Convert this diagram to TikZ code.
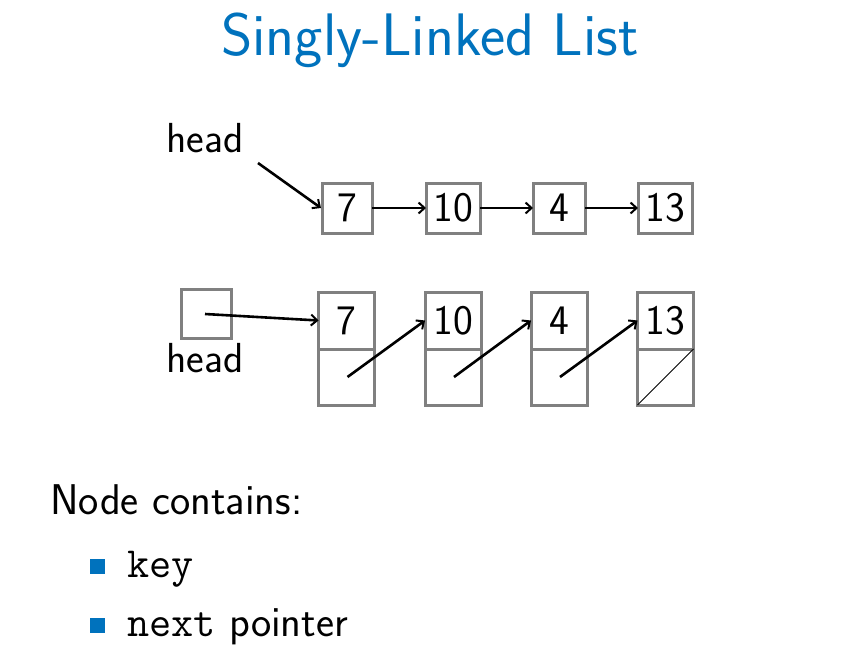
\documentclass[tikz,border=0pt]{standalone}
\usetikzlibrary{arrows.meta}
\definecolor{titleblue}{RGB}{0,114,189}
\definecolor{boxgray}{RGB}{128,128,128}
\begin{document}
\begin{tikzpicture}[x=1pt,y=-1pt,
  lbl/.style={font=\sffamily\fontsize{42}{44}\selectfont, inner sep=0pt},
  cell/.style={draw=boxgray, line width=3pt, inner sep=0pt, outer sep=0pt, font=\sffamily\fontsize{42}{44}\selectfont},
  ptr/.style={-{Straight Barb[length=6pt,width=11pt,line width=2pt]}, line width=2.6pt},
  bul/.style={fill=titleblue, inner sep=0pt, minimum size=15pt}]
\useasboundingbox (0,0) rectangle (860,645);
\node[font=\sffamily\fontsize{60}{62}\selectfont, text=titleblue] (title) at (430,40) {Singly-Linked List};
% top list
\node[lbl] (h1) at (205,138) {head};
\node[cell, minimum width=50pt, minimum height=50pt] (a1) at (347,208) {7};
\node[cell, minimum width=54pt, minimum height=50pt] (a2) at (453,208) {10};
\node[cell, minimum width=52pt, minimum height=50pt] (a3) at (559,208) {4};
\node[cell, minimum width=54pt, minimum height=50pt] (a4) at (665,208) {13};
\coordinate (h1s) at (258,163);
\draw[ptr] (h1s) -- ([xshift=-1pt]a1.west);
\draw[ptr] (a1.east) -- (a2.west);
\draw[ptr] (a2.east) -- (a3.west);
\draw[ptr] (a3.east) -- (a4.west);
% bottom list
\node[cell, minimum width=50pt, minimum height=49pt] (hb) at (206,313.5) {};
\node[lbl] (h2) at (205,358) {head};
\foreach \n/\x/\k in {1/346.5/7, 2/453/10, 3/559/4, 4/665.5/13}{
  \node[cell, minimum width=56pt, minimum height=57pt] (k\n) at (\x,320.5) {\k};
  \node[cell, minimum width=56pt, minimum height=56pt, anchor=north] (p\n) at (k\n.south) {};
}
\coordinate (hbs) at (205,314);
\draw[ptr] (hbs) -- (k1.west);
\foreach \i/\j in {1/2,2/3,3/4}{
  \draw[ptr] ([xshift=-27pt]p\i.east |- 0,377) -- (k\j.west);
}
\draw[line width=0.8pt] (p4.south west) -- (p4.north east);
% text
\node[font=\sffamily\fontsize{43}{45}\selectfont, anchor=base west, inner sep=0pt] (nc) at (50,514) {Node contains:};
\node[bul] (b1) at (97,566) {};
\node[font=\ttfamily\fontsize{43}{45}\selectfont, anchor=base west, inner sep=0pt] (t1) at (127,577) {key};
\node[bul] (b2) at (97,625) {};
\node[font=\sffamily\fontsize{43}{45}\selectfont, anchor=base west, inner sep=0pt] (t2) at (127,636) {\ttfamily next\sffamily\ pointer};
\end{tikzpicture}
\end{document}
